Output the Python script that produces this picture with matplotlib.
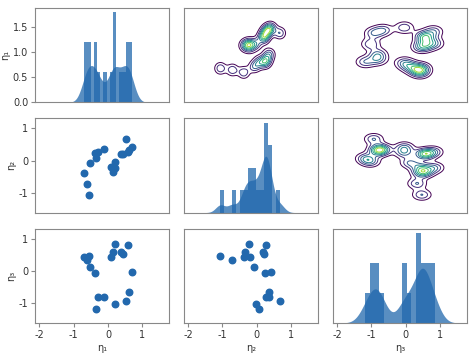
import numpy as np
import matplotlib.pyplot as plt

plt.rcParams['font.family'] = 'DejaVu Sans'
plt.rcParams['font.size'] = 7
plt.rcParams['axes.unicode_minus'] = False

# values (18 draws)
eta1 = [-0.56, -0.61, -0.69, 0.10, 0.15, 0.21, -0.51, 0.58, 0.38,
        0.43, -0.39, 0.70, 0.62, -0.29, -0.12, 0.53, 0.19, -0.36]
eta2 = [-1.06, -0.71, -0.38, -0.21, -0.35, -0.22, -0.07, 0.27, 0.19,
        0.21, 0.24, 0.41, 0.34, 0.28, 0.36, 0.67, -0.03, 0.07]
eta3 = [0.47, 0.33, 0.43, 0.43, 0.58, 0.84, 0.12, 0.81, 0.58,
        0.52, -0.05, -0.04, -0.65, -0.81, -0.81, -0.93, -1.02, -1.18]
names = ['η₁', 'η₂', 'η₃']
xticks = [-2, -1, 0, 1]
yticks = [-1, 0, 1]
diag_yticks = [0.0, 0.5, 1.0, 1.5]

data = [np.array(eta1), np.array(eta2), np.array(eta3)]
blue = '#2268ad'
text_col = '#333333'
spine_col = '#888888'


def kde1d(v, grid):
    bw = 0.33 * v.std()
    d = (grid[:, None] - v[None, :]) / bw
    return np.exp(-0.5 * d**2).sum(axis=1) / (len(v) * bw * np.sqrt(2 * np.pi))


def kde2d(x, y, gx, gy):
    bx, by = 0.27 * x.std(), 0.27 * y.std()
    X, Y = np.meshgrid(gx, gy)
    Z = np.zeros_like(X)
    for xi, yi in zip(x, y):
        Z += np.exp(-0.5 * (((X - xi) / bx)**2 + ((Y - yi) / by)**2))
    return X, Y, Z / (len(x) * 2 * np.pi * bx * by)


fig, axs = plt.subplots(3, 3, figsize=(4.74, 3.6), dpi=100)
fig.subplots_adjust(left=0.074, right=0.985, top=0.978, bottom=0.103,
                    wspace=0.11, hspace=0.17)

for i in range(3):
    for j in range(3):
        ax = axs[i, j]
        xv, yv = data[j], data[i]
        if i == j:
            grid = np.linspace(xv.min() - 0.6, xv.max() + 0.6, 300)
            ax.hist(xv, bins=15, density=True, color=blue, alpha=0.75)
            ax.fill_between(grid, kde1d(xv, grid), color=blue, alpha=0.75, lw=0)
        elif i > j:
            ax.scatter(xv, yv, s=22, color=blue, zorder=3)
            ax.set_ylim(-1.61, 1.31)
        else:
            gx = np.linspace(-2.1, 1.75, 320)
            gy = np.linspace(-1.6, 1.3, 260)
            X, Y, Z = kde2d(xv, yv, gx, gy)
            lev = np.linspace(0, Z.max(), 9)[1:]
            ax.contour(X, Y, Z, levels=lev, cmap='viridis', linewidths=0.7)
            ax.set_ylim(-1.61, 1.31)
        ax.set_xlim(-2.12, 1.78)
        for s in ax.spines.values():
            s.set_color(spine_col)
        ax.tick_params(labelcolor=text_col, color=spine_col, length=3, width=0.8, pad=2)
        if i == 2:
            ax.set_xticks(xticks)
            ax.set_xlabel(names[j], color=text_col, labelpad=2)
        else:
            ax.set_xticks([])
        if j == 0:
            ax.set_yticks(diag_yticks if i == 0 else yticks)
            ax.set_ylabel(names[i], color=text_col, labelpad=2)
        else:
            ax.set_yticks([])

fig.savefig('out.png', dpi=100)
